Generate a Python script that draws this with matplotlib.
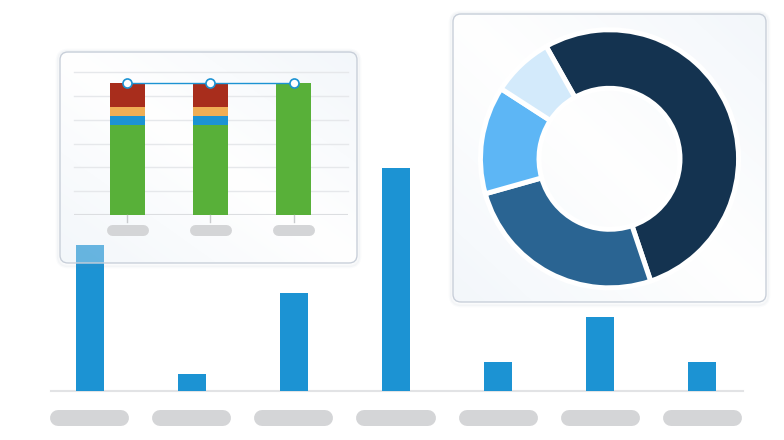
import numpy as np
import matplotlib.pyplot as plt
from matplotlib.patches import FancyBboxPatch

# figure size in pixels
W, H = 784, 440

# main bar chart
main_values = [146, 17, 98, 223, 29, 74, 29]

# small stacked chart (3 columns)
stack_green = [38, 38, 55.3]
stack_blue = [3.6, 3.6, 0]
stack_orange = [3.7, 3.7, 0]
stack_red = [10, 10, 0]

# donut
donut_values = [53, 25.8, 13.5, 7.7]
donut_colors = ['#143350', '#2a6492', '#5db6f5', '#d3eafb']

BLUE = '#1c93d3'
PILL = '#d4d5d7'


def rect(x0, y0, x1, y1):
    # pixel box (top-left origin) -> figure fraction
    return [x0 / W, 1 - y1 / H, (x1 - x0) / W, (y1 - y0) / H]


def panel(fig, x0, y0, x1, y1, z, alpha):
    pad = 8
    w, h = x1 - x0, y1 - y0
    pax = fig.add_axes(rect(x0 - pad, y0 - pad, x1 + pad, y1 + pad), zorder=z)
    pax.axis('off')
    # soft shadow ring
    for s, a in [(3, 0.03), (1.8, 0.05)]:
        pax.add_patch(FancyBboxPatch((-s, -s - 1), w + 2 * s, h + 2 * s,
                                     boxstyle='round,pad=0,rounding_size=%g' % (8 + s),
                                     fc='none', ec='#7d8da5', lw=2, alpha=a))
    box = FancyBboxPatch((0, 0), w, h, boxstyle='round,pad=0,rounding_size=8',
                         fc='none', ec='none')
    pax.add_patch(box)
    u = np.linspace(0, 1, 120)
    U, V = np.meshgrid(u, u)
    f = np.abs(U + V - 1)[..., None]
    # corner tint chosen so that the blended result is about #f3f7fb
    target = np.array([243, 247, 251]) / 255
    corner = 1 - (1 - target) / alpha
    img = (1 - f) * np.ones(3) + f * corner
    im = pax.imshow(img, extent=(0, w, 0, h), origin='lower', aspect='auto',
                    alpha=alpha, interpolation='bilinear')
    im.set_clip_path(box)
    pax.add_patch(FancyBboxPatch((0, 0), w, h, boxstyle='round,pad=0,rounding_size=8',
                                 fc='none', ec='#c8cfd9', lw=1))
    pax.set_xlim(-pad, w + pad)
    pax.set_ylim(-pad, h + pad)
    return pax


fig = plt.figure(figsize=(W / 100, H / 100), dpi=100)
fig.patch.set_facecolor('white')

# ---- main bars
ax = fig.add_axes(rect(38.5, 0, 753.5, 440), zorder=0)
ax.axis('off')
x = np.arange(len(main_values))
ax.bar(x, main_values, width=0.274, color=BLUE, zorder=2)
ax.axhline(0, xmin=0.018, xmax=0.985, color='#e2e3e5', lw=1.5, zorder=1)
for i in x:
    ax.plot([i - 0.3085, i + 0.3085], [-27.5, -27.5], lw=11.5, color=PILL,
            solid_capstyle='round')
ax.set_xlim(-0.5, 6.5)
ax.set_ylim(-49.5, 390.5)

# ---- panel with stacked bars
panel(fig, 60, 52, 357, 263, 1, 0.38)
sax = fig.add_axes(rect(74, 72.3, 347.7, 215), zorder=2)
sax.axis('off')
xs = np.arange(3)
for v in range(10, 70, 10):
    sax.axhline(v, color='#e6e8eb', lw=1, clip_on=False, zorder=0)
sax.axhline(0, color='#dcdee1', lw=1.5, zorder=0)
bottom = np.zeros(3)
for vals, col in [(stack_green, '#58b039'), (stack_blue, BLUE),
                  (stack_orange, '#f0ae55'), (stack_red, '#a82d1c')]:
    sax.bar(xs, vals, bottom=bottom, width=0.42, color=col, zorder=2)
    bottom = bottom + np.array(vals)
for i in xs:
    sax.plot([i, i], [0, -3], color='#c9cbce', lw=1, clip_on=False)
    sax.plot([i - 0.187, i + 0.187], [-6.1, -6.1], lw=7.9, color=PILL,
             solid_capstyle='round', clip_on=False)
sax.plot(xs, bottom, color=BLUE, lw=1, marker='o', mfc='white', mec=BLUE,
         ms=6.5, mew=1.2, clip_on=False, zorder=5)
sax.set_xlim(-0.64, 2.65)
sax.set_ylim(0, 60)

# ---- panel with donut
panel(fig, 453, 14, 766, 302, 1, 0.6)
dax = fig.add_axes(rect(609.5 - 135, 158.8 - 135, 609.5 + 135, 158.8 + 135), zorder=2)
dax.pie(donut_values, colors=donut_colors, startangle=119.4, counterclock=False,
        radius=1.02, wedgeprops=dict(width=0.463, edgecolor='white', linewidth=3.6))
dax.set_xlim(-1.067, 1.067)
dax.set_ylim(-1.067, 1.067)
dax.axis('off')

fig.savefig('out.png', dpi=100)
